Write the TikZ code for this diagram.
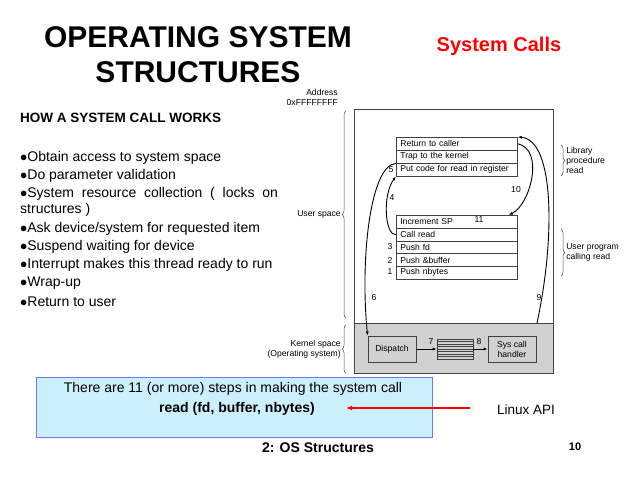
\documentclass[tikz,border=0pt]{standalone}
\usepackage{fontspec}
\setmainfont{Liberation Sans}
\usetikzlibrary{decorations.pathreplacing,arrows.meta}
\begin{document}
\begin{tikzpicture}[x=1pt,y=-1pt,
  sm/.style={font=\fontsize{8.6}{10}\selectfont,inner sep=0pt},
  row/.style={draw=black!75,line width=0.7pt,minimum width=121pt,minimum height=12.7pt,inner sep=0pt,anchor=north west,font=\fontsize{8.6}{10}\selectfont,text width=113pt},
  kbox/.style={draw=black!75,line width=0.8pt,fill=black!18,minimum width=48pt,minimum height=26pt,inner sep=0pt,align=center,font=\fontsize{8.6}{10}\selectfont},
  brc/.style={decorate,decoration={brace,amplitude=4pt},draw=black!70,line width=0.5pt},
  arr/.style={-{Latex[length=4pt,width=3pt]},line width=0.9pt},
  bul/.style={anchor=west,inner sep=0pt,font=\fontsize{14}{16}\selectfont}]
\useasboundingbox (0,0) rectangle (638,478);
\fill[white] (0,0) rectangle (638,478);
% titles
\node[align=center,font=\bfseries\fontsize{30}{35}\selectfont] (title) at (198,55) {OPERATING SYSTEM\\STRUCTURES};
\node[text=red,font=\bfseries\fontsize{20}{24}\selectfont] (sc) at (499,46) {System Calls};
\node[anchor=west,inner sep=0pt,font=\bfseries\fontsize{13.5}{16}\selectfont] (how) at (20,118) {HOW A SYSTEM CALL WORKS};
\node[bul] (b1) at (20,158) {$\bullet$Obtain access to system space};
\node[bul] (b2) at (20,176) {$\bullet$Do parameter validation};
\node[bul] (b3) at (20,194) {$\bullet$System\ \ resource\ \ collection\ \ (\ \ locks\ \ on};
\node[bul] (b3b) at (20,210) {structures )};
\node[bul] (b4) at (20,229) {$\bullet$Ask device/system for requested item};
\node[bul] (b5) at (20,247) {$\bullet$Suspend waiting for device};
\node[bul] (b6) at (20,265) {$\bullet$Interrupt makes this thread ready to run};
\node[bul] (b7) at (20,283) {$\bullet$Wrap-up};
\node[bul] (b8) at (20,302) {$\bullet$Return to user};
% outer box
\fill[black!18] (354,323) rectangle (553,373);
\draw[black!75,line width=0.8pt] (354,109) rectangle (553,373);
\draw[black!75,line width=0.8pt] (354,323) -- (553,323);
\node[sm,align=right,anchor=south east] (addr) at (338,106) {Address\\0xFFFFFFFF};
% library rows
\node[row] (r1) at (396,137) {Return to caller};
\node[row] (r2) at (396,150) {Trap to the kernel};
\node[row] (r3) at (396,163) {Put code for read in register};
% user rows
\node[row] (u1) at (396,215) {Increment SP};
\node[row] (u2) at (396,228) {Call read};
\node[row] (u3) at (396,240.7) {Push fd};
\node[row] (u4) at (396,253.4) {Push \&buffer};
\node[row] (u5) at (396,266) {Push nbytes};
% kernel boxes
\node[kbox] (disp) at (392,349) {Dispatch};
\node[kbox] (sch) at (512,349) {Sys call\\handler};
\node[draw=black!75,fill=black!18,minimum width=36pt,minimum height=20pt,inner sep=0pt,line width=0.7pt] (tbl) at (455,349) {};
\foreach \i in {1,...,7}{\draw[black!75,line width=0.5pt] (437,339+2.5*\i) -- (473,339+2.5*\i);}
% braces
\draw[brc] (346,318) -- node[sm,anchor=east,xshift=-5pt] (us) {User space} (346,111);
\draw[brc] (346,373) -- node[sm,anchor=east,align=right,xshift=-5pt] (ks) {Kernel space\\(Operating system)} (346,325);
\draw[brc] (561,145) -- node[sm,anchor=west,align=left,xshift=5pt] (lib) {Library\\procedure\\read} (561,176);
\draw[brc] (561,229) -- node[sm,anchor=west,align=left,xshift=5pt] (upc) {User program\\calling read} (561,276);
% step numbers
\node[sm] (n1) at (390,272) {1};
\node[sm] (n2) at (390,260) {2};
\node[sm] (n3) at (390,247) {3};
\node[sm] (n4) at (392,198) {4};
\node[sm] (n5) at (391,170) {5};
\node[sm] (n6) at (374,298) {6};
\node[sm] (n7) at (431,342) {7};
\node[sm] (n8) at (479,342) {8};
\node[sm] (n9) at (539,298) {9};
\node[sm] (n10) at (516,190) {10};
\node[sm] (n11) at (479,220) {11};
% arrows
\draw[arr] (u2.west) .. controls (385,236) and (382,195) .. (r3.south west);
\draw[arr] (r2.south west) .. controls (370,165) and (360,260) .. (disp.north west);
\draw[arr] (disp.east) -- (tbl.west);
\draw[arr] (tbl.east) -- (sch.west);
\coordinate (c9) at (537,323);
\draw[arr] (c9) .. controls (555,240) and (555,140) .. (r1.north east);
\draw[arr] (r1.east) .. controls (545,150) and (530,205) .. ([xshift=-9pt]u1.north east);
% bottom box
\node[draw=blue!55,fill=cyan!20,minimum width=396pt,minimum height=60pt,anchor=north west,inner sep=0pt,line width=0.6pt] (blue) at (36,377) {};
\node[font=\fontsize{14}{16}\selectfont] (t1) at (233,389) {There are 11 (or more) steps in making the system call};
\node[font=\bfseries\fontsize{14}{16}\selectfont] (t2) at (237,409) {read (fd, buffer, nbytes)};
\node[font=\fontsize{13.5}{16}\selectfont] (api) at (526,410) {Linux API};
\coordinate (ra) at (470,408);
\draw[red,line width=1.2pt,-{Latex[length=6pt,width=5pt]}] (ra) -- (346,408);
\node[font=\bfseries\fontsize{14}{16}\selectfont] (foot) at (318,448) {2: OS Structures};
\node[font=\bfseries\fontsize{11}{13}\selectfont] (pg) at (575,447) {10};
\end{tikzpicture}
\end{document}
